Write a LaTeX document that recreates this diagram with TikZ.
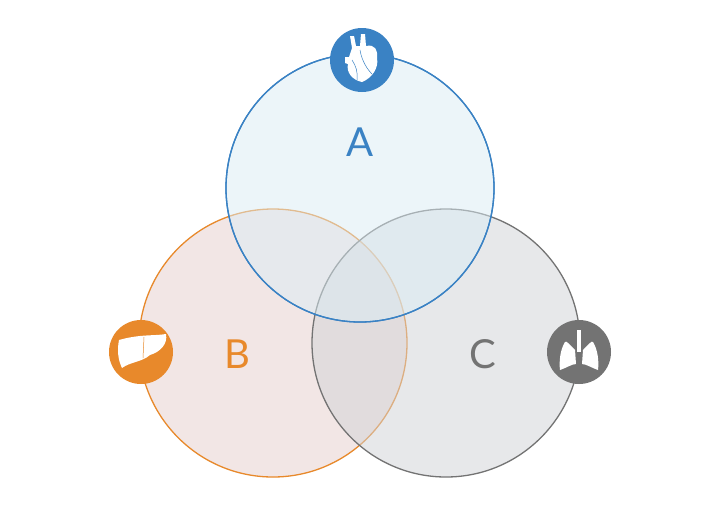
\documentclass[tikz,border=0pt]{standalone}
\usepackage{fontspec}
\setmainfont{Lato}
\begin{document}
\begin{tikzpicture}[x=1pt,y=-1pt,
  setA/.style={draw=cA,line width=1.3pt,fill=fA,fill opacity=0.5,draw opacity=1},
  setB/.style={draw=cB,line width=1.3pt,fill=fB,fill opacity=0.5,draw opacity=1},
  setC/.style={draw=cC,line width=1.3pt,fill=fC,fill opacity=0.5,draw opacity=1},
  lab/.style={font=\fontsize{40}{40}\selectfont},
  badge/.style={circle,minimum size=64pt,inner sep=0pt}]
\definecolor{cA}{HTML}{3A82C4}\definecolor{fA}{HTML}{DBEDF5}
\definecolor{cB}{HTML}{E8892B}\definecolor{fB}{HTML}{E7CFCD}
\definecolor{cC}{HTML}{737373}\definecolor{fC}{HTML}{D1D3D7}
\useasboundingbox (0,0) rectangle (720,504);
\fill[white] (0,0) rectangle (720,504);
\path[setB] (273,343) circle (134);
\path[setC] (446,343) circle (134);
\path[setA] (360,188) circle (134);
\path[draw=cA,line width=1.3pt] (360,188) circle (134);
\node[lab,text=cA] (la) at (360,142) {A};
\node[lab,text=cB] (lb) at (237,354) {B};
\node[lab,text=cC] (lc) at (483,354) {C};
% badges
\node[badge,fill=cA] (ia) at (362,60) {};
\node[badge,fill=cB] (ib) at (141,352) {};
\node[badge,fill=cC] (ic) at (579,352) {};
% heart
\fill[white] (352,48) -- (350,36) -- (354,36) -- (356,46) -- (360,46) -- (361,34) -- (365,34) -- (366,46)
  .. controls (375,44) and (378,50) .. (377,58) .. controls (379,68) and (372,78) .. (362,82)
  .. controls (352,80) and (346,72) .. (348,64) -- (345,63) -- (345,57) -- (349,57) -- cycle;
\draw[cA,line width=0.5pt] (360,50) .. controls (362,62) and (368,70) .. (372,74);
\draw[cA,line width=0.5pt] (352,60) .. controls (356,66) and (358,72) .. (357,80);
% liver
\fill[white] (119,340) .. controls (140,334) and (155,336) .. (166,334) .. controls (168,344) and (160,352) .. (150,355)
  .. controls (142,362) and (130,362) .. (122,368) .. controls (118,360) and (117,350) .. (119,340) -- cycle;
\draw[cB,line width=0.5pt] (144,337) -- (143,358);
% lungs
\fill[white] (577,330) rectangle (581,352);
\fill[white] (575,350) .. controls (570,345) and (566,340) .. (565,342) .. controls (560,350) and (559,362) .. (560,370)
  .. controls (566,368) and (572,364) .. (576,364) -- cycle;
\fill[white] (583,350) .. controls (588,345) and (592,340) .. (593,342) .. controls (598,350) and (599,362) .. (598,370)
  .. controls (592,368) and (586,364) .. (582,364) -- cycle;
\end{tikzpicture}
\end{document}
